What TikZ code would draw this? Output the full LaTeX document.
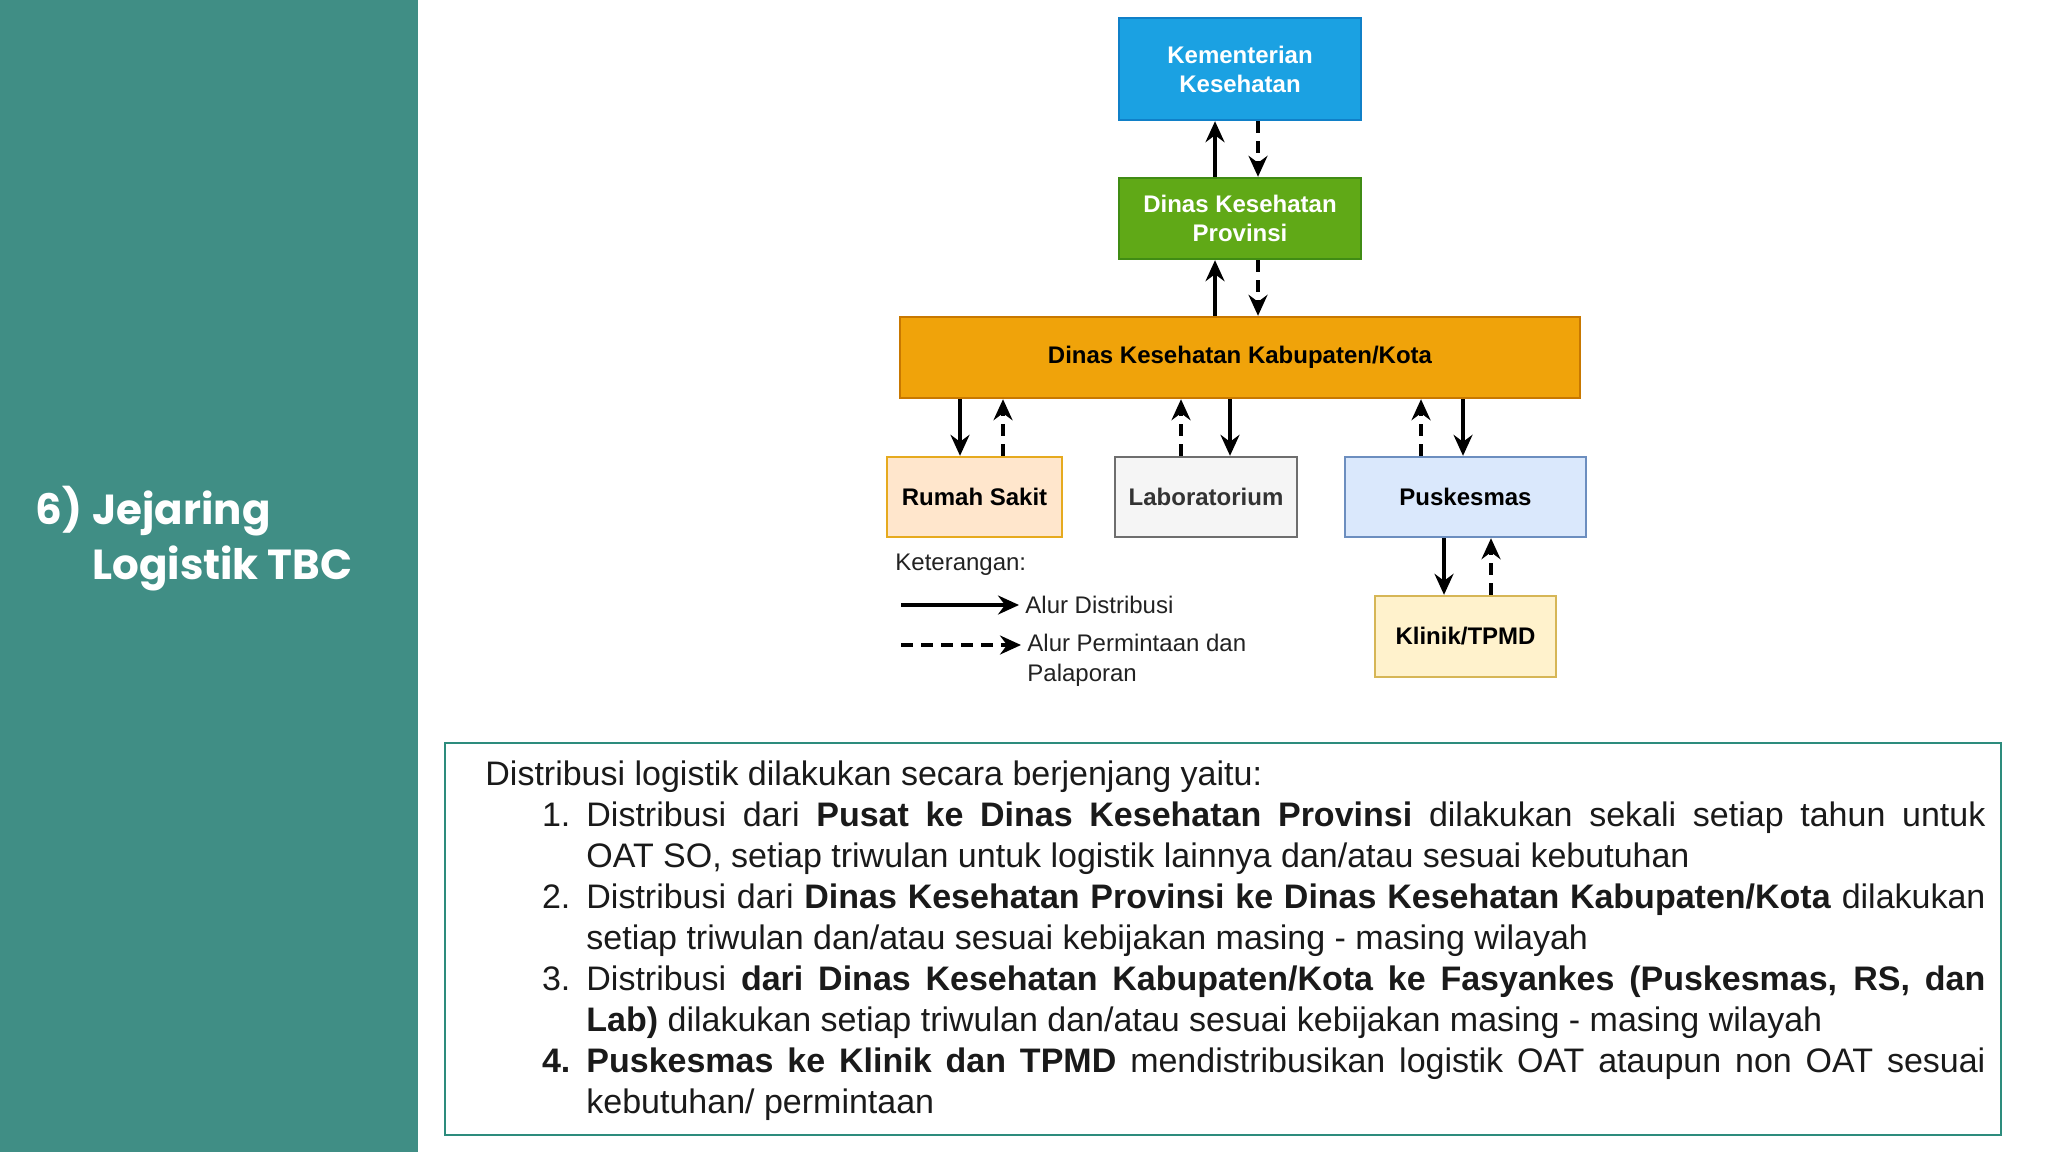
\documentclass[tikz,border=0pt]{standalone}
\usepackage{fontspec}
\setmainfont{Liberation Sans}
\newfontfamily\titlefont{Poppins}
\usetikzlibrary{arrows.meta}

\tikzset{
  unit/.style={draw, line width=1.2pt, align=center, inner sep=0pt, font=\fontsize{12}{14.5}\selectfont\bfseries},
  flow/.style={line width=1.7pt, -{Stealth[length=10.5pt,width=9.5pt,inset=3.5pt]}},
  req/.style={flow, dash pattern=on 6pt off 4pt},
  legendtext/.style={font=\fontsize{12}{15}\selectfont, text={rgb, 255:red, 34; green, 34; blue, 34 }},
}

\begin{document}
\begin{tikzpicture}[x=0.5pt,y=0.5pt,yscale=-1,xscale=1]
\useasboundingbox (0,0) rectangle (2048,1152);
\fill [white] (0,0) rectangle (2048,1152);
\fill [color={rgb, 255:red, 64; green, 142; blue, 133 }] (0,0) rectangle (418,1152);

\node (num) [anchor=base west, inner sep=0pt, text=white, font=\titlefont\bfseries\fontsize{21}{27.5}\selectfont] at (35,524) {6)};
\node (title) [anchor=base west, inner sep=0pt, text=white, align=left, font=\titlefont\bfseries\fontsize{21}{27.5}\selectfont] at (92,579) {Jejaring\\Logistik TBC};

% struktur jejaring
\draw (1240,69) node (kemenkes) [unit, fill={rgb, 255:red, 27; green, 161; blue, 226 }, draw={rgb, 255:red, 16; green, 128; blue, 200 }, text=white, minimum width=121pt, minimum height=51pt] {Kementerian\\Kesehatan};
\draw (1240,218.5) node (prov) [unit, fill={rgb, 255:red, 96; green, 169; blue, 23 }, draw={rgb, 255:red, 64; green, 140; blue, 20 }, text=white, minimum width=121pt, minimum height=40.5pt] {Dinas Kesehatan\\Provinsi};
\draw (1240,357.5) node (kab) [unit, fill={rgb, 255:red, 240; green, 163; blue, 10 }, draw={rgb, 255:red, 200; green, 120; blue, 0 }, minimum width=340pt, minimum height=40.5pt] {Dinas Kesehatan Kabupaten/Kota};
\draw (974.5,497) node (rs) [unit, fill={rgb, 255:red, 255; green, 230; blue, 204 }, draw={rgb, 255:red, 230; green, 170; blue, 30 }, minimum width=87.5pt, minimum height=40pt] {Rumah Sakit};
\draw (1206,497) node (lab) [unit, fill={rgb, 255:red, 245; green, 245; blue, 245 }, draw={rgb, 255:red, 110; green, 110; blue, 110 }, text={rgb, 255:red, 51; green, 51; blue, 51 }, minimum width=91pt, minimum height=40pt] {Laboratorium};
\draw (1465.5,497) node (pusk) [unit, fill={rgb, 255:red, 218; green, 232; blue, 252 }, draw={rgb, 255:red, 108; green, 142; blue, 191 }, minimum width=120.5pt, minimum height=40pt] {Puskesmas};
\draw (1465.5,636.5) node (klinik) [unit, fill={rgb, 255:red, 255; green, 242; blue, 204 }, draw={rgb, 255:red, 214; green, 182; blue, 86 }, minimum width=90.5pt, minimum height=40.5pt] {Klinik/TPMD};

\draw [flow] ([xshift=-12.5pt]prov.north) -- ([xshift=-12.5pt]kemenkes.south);
\draw [req] ([xshift=9pt]kemenkes.south) -- ([xshift=9pt]prov.north);
\draw [flow] ([xshift=-12.5pt]kab.north) -- ([xshift=-12.5pt]prov.south);
\draw [req] ([xshift=9pt]prov.south) -- ([xshift=9pt]kab.north);
\draw [flow] ([xshift=-140pt]kab.south) -- ([xshift=-7.25pt]rs.north);
\draw [req] ([xshift=14.25pt]rs.north) -- ([xshift=-118.5pt]kab.south);
\draw [req] ([xshift=-12.5pt]lab.north) -- ([xshift=-29.5pt]kab.south);
\draw [flow] ([xshift=-5pt]kab.south) -- ([xshift=12pt]lab.north);
\draw [req] ([xshift=-22.25pt]pusk.north) -- ([xshift=90.5pt]kab.south);
\draw [flow] ([xshift=111.5pt]kab.south) -- ([xshift=-1.25pt]pusk.north);
\draw [flow] ([xshift=-10.75pt]pusk.south) -- ([xshift=-10.75pt]klinik.north);
\draw [req] ([xshift=12.75pt]klinik.north) -- ([xshift=12.75pt]pusk.south);

% keterangan
\node (ket) [legendtext, anchor=west, inner sep=0pt] at (895,565) {Keterangan:};
\coordinate (lgA) at (901,605);
\node (distlbl) [legendtext, anchor=west, inner sep=3pt] at (1019,605) {Alur Distribusi};
\draw [flow] (lgA) -- (distlbl);
\coordinate (lgB) at (901,645);
\node (reqlbl) [legendtext, anchor=base west, inner sep=3pt, align=left] at (1021,681) {Alur Permintaan dan\\Palaporan};
\draw [req] (lgB) -- (lgB -| reqlbl.west);

% catatan distribusi
\draw [color={rgb, 255:red, 45; green, 140; blue, 125 }, line width=1.2pt] (445,743) rectangle (2001,1135);
\node (note) [anchor=base west, inner sep=0pt, text width=750pt, align=justify, text={rgb, 255:red, 26; green, 26; blue, 26 }, font=\fontsize{17}{20.5}\selectfont] at (485,785) {\hyphenpenalty=10000\exhyphenpenalty=10000\parindent=0pt
Distribusi logistik dilakukan secara berjenjang yaitu:
\begin{list}{}{\leftmargin=50.5pt\labelwidth=42.5pt\labelsep=8pt\topsep=0pt\partopsep=0pt\itemsep=0pt\parsep=0pt}
\item[1.] Distribusi dari \textbf{Pusat ke Dinas Kesehatan Provinsi} dilakukan sekali setiap tahun untuk\linebreak OAT SO, setiap triwulan untuk logistik lainnya dan/atau sesuai kebutuhan
\item[2.] Distribusi dari \textbf{Dinas Kesehatan Provinsi ke Dinas Kesehatan Kabupaten/Kota} dilakukan\linebreak setiap triwulan dan/atau sesuai kebijakan masing - masing wilayah
\item[3.] Distribusi \textbf{dari Dinas Kesehatan Kabupaten/Kota ke Fasyankes (Puskesmas, RS, dan\linebreak Lab)} dilakukan setiap triwulan dan/atau sesuai kebijakan masing - masing wilayah
\item[\textbf{4.}] \textbf{Puskesmas ke Klinik dan TPMD} mendistribusikan logistik OAT ataupun non OAT sesuai\linebreak kebutuhan/ permintaan
\end{list}};

\end{tikzpicture}
\end{document}
